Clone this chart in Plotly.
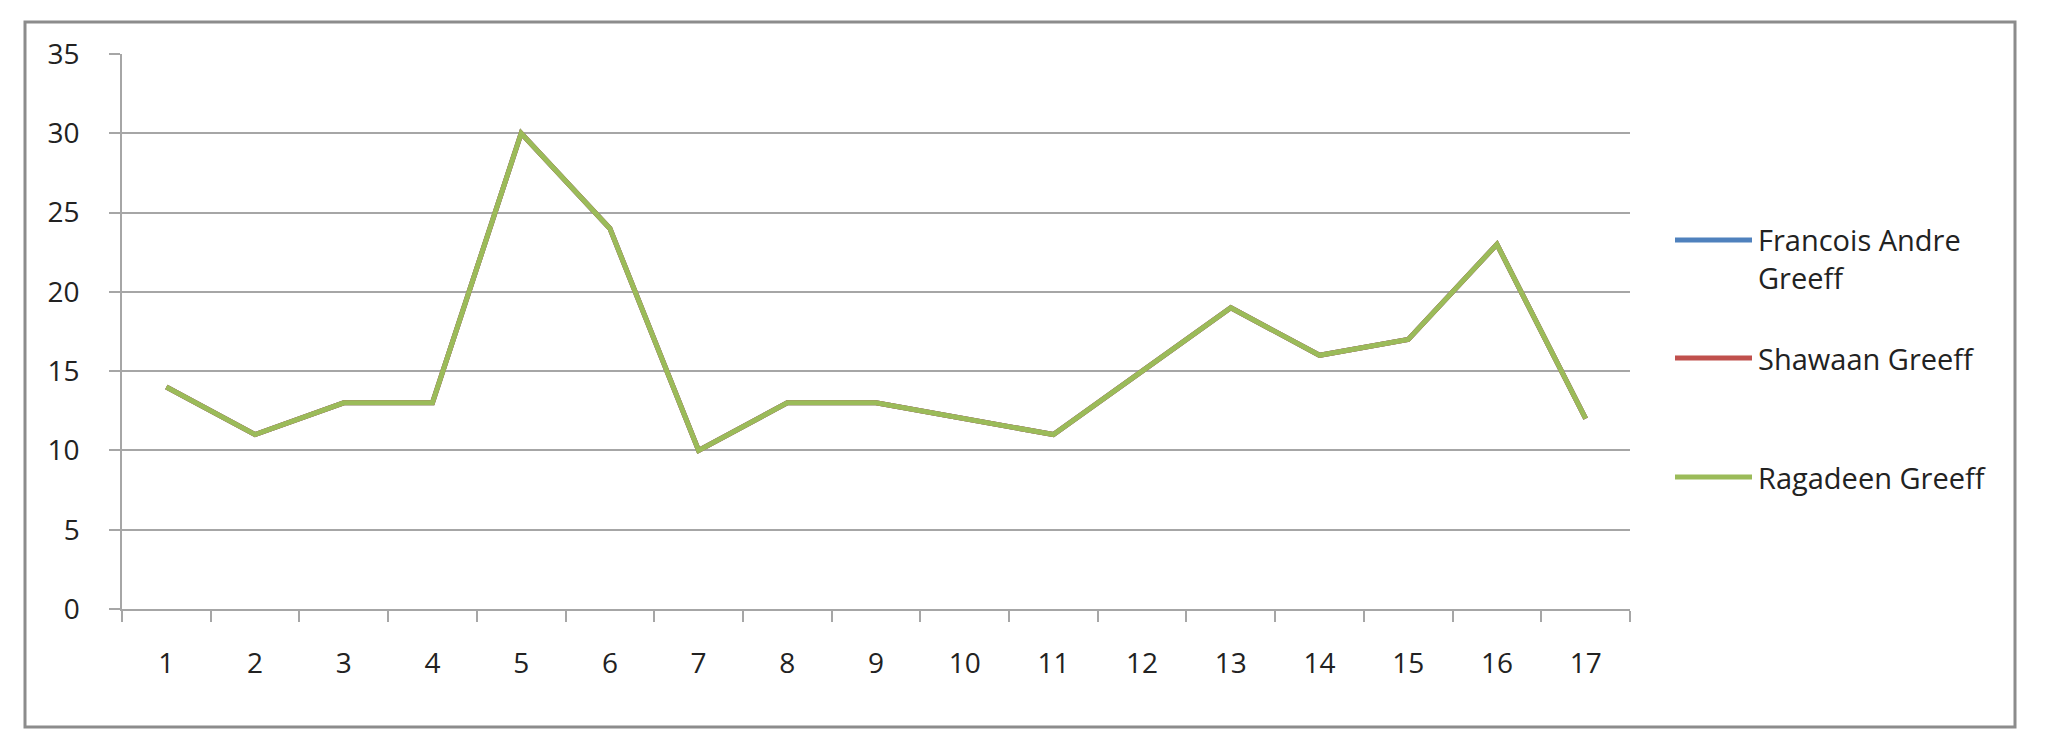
import plotly.graph_objects as go

categories = [str(i) for i in range(1, 18)]
series_names = ["Francois Andre<br>Greeff", "Shawaan Greeff", "Ragadeen Greeff"]
series_colors = ["#4f81bd", "#c0504d", "#9bbb59"]
francois = [14, 11, 13, 13, 30, 24, 10, 13, 13, 12, 11, 15, 19, 16, 17, 23, 12]
shawaan = [14, 11, 13, 13, 30, 24, 10, 13, 13, 12, 11, 15, 19, 16, 17, 23, 12]
ragadeen = [14, 11, 13, 13, 30, 24, 10, 13, 13, 12, 11, 15, 19, 16, 17, 23, 12]
y_ticks = [0, 5, 10, 15, 20, 25, 30, 35]

W, H = 2053, 732
L, R, T, B = 122, 1630, 54, 609


def px_x(p):
	return (p - L) / (R - L)


def px_y(p):
	return (B - p) / (B - T)


fig = go.Figure()
for name, color, values in zip(series_names, series_colors, [francois, shawaan, ragadeen]):
	fig.add_trace(go.Scatter(x = categories, y = values, mode = "lines", name = name,
	                         line = dict(color = color, width = 5), showlegend = False))

grid = "#a6a6a6"
font = dict(family = "Open Sans", size = 28, color = "#222222")
legend_font = dict(family = "Open Sans", size = 29, color = "#222222")

fig.update_layout(width = W, height = H,
                  margin = dict(l = L, r = W - R, t = T, b = H - B),
                  paper_bgcolor = "white", plot_bgcolor = "white",
                  font = font, showlegend = False)

fig.update_xaxes(type = "category", range = [-0.5, len(categories) - 0.5], tickson = "boundaries",
                 ticks = "outside", ticklen = 11, tickcolor = grid, tickwidth = 1.5,
                 showline = True, linecolor = grid, linewidth = 1.5,
                 showgrid = False, ticklabelstandoff = 29, tickfont = font)
fig.update_yaxes(range = [0, 35], tickvals = y_ticks, ticks = "outside", ticklen = 11,
                 tickcolor = grid, tickwidth = 1.5, showline = True, linecolor = grid, linewidth = 1.5,
                 gridcolor = grid, gridwidth = 1.5, zeroline = False, ticklabelstandoff = 24, tickfont = font)

# outer chart frame
fig.add_shape(type = "rect", xref = "paper", yref = "paper",
              x0 = px_x(25), x1 = px_x(2015), y0 = px_y(727), y1 = px_y(22),
              line = dict(color = "#8c8c8c", width = 3), layer = "below")

# legend drawn by hand to match the spacing of the original
legend_y = [240, 358, 477]
for name, color, ly in zip(series_names, series_colors, legend_y):
	fig.add_shape(type = "line", xref = "paper", yref = "paper",
	              x0 = px_x(1675), x1 = px_x(1752), y0 = px_y(ly), y1 = px_y(ly),
	              line = dict(color = color, width = 5))
	lines = name.count("<br>") + 1
	fig.add_annotation(text = name, xref = "paper", yref = "paper", showarrow = False,
	                   x = px_x(1756), y = px_y(ly + (lines - 1) * 18.5), xanchor = "left", yanchor = "middle",
	                   align = "left", font = legend_font)

fig.write_html("out.html", config = {"displayModeBar": False},
               post_script = "document.body.style.margin = '0';")
